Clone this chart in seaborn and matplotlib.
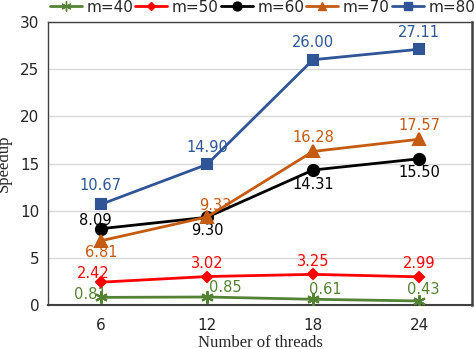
import matplotlib
matplotlib.use("Agg")
import matplotlib.pyplot as plt
import seaborn as sns
import pandas as pd
from matplotlib.lines import Line2D

threads = [6, 12, 18, 24]
m40 = [0.81, 0.85, 0.61, 0.43]
m50 = [2.42, 3.02, 3.25, 2.99]
m60 = [8.09, 9.30, 14.31, 15.50]
m70 = [6.81, 9.33, 16.28, 17.57]
m80 = [10.67, 14.90, 26.00, 27.11]
series_names = ["m=40", "m=50", "m=60", "m=70", "m=80"]
series_vals = [m40, m50, m60, m70, m80]
y_ticks = [0, 5, 10, 15, 20, 25, 30]

colors = {"m=40": "#548235", "m=50": "#ff0000", "m=60": "#000000",
          "m=70": "#c55a11", "m=80": "#2f5597"}
markers = {"m=40": (6, 2, 0), "m=50": "D", "m=60": "o", "m=70": "^", "m=80": "s"}
msizes = {"m=40": 9, "m=50": 5, "m=60": 8, "m=70": 8, "m=80": 7}

sns.set_theme(style="white")
plt.rcParams["font.family"] = ["DejaVu Sans"]

fig = plt.figure(figsize=(4.74, 3.49), dpi=100)
ax = fig.add_axes([0.101, 0.126, 0.895, 0.811])

for name, vals in zip(series_names, series_vals):
    d = pd.DataFrame({"pos": list(range(len(threads))), "speedup": vals})
    sns.lineplot(data=d, x="pos", y="speedup", color=colors[name], ax=ax,
                 linewidth=2, marker=markers[name], markersize=msizes[name],
                 markeredgecolor=colors[name], markeredgewidth=1.5, zorder=3)

# offsets in pixels (dx, dy), up positive
offsets = {
    "m=40": [(-11, 3), (18, 10), (12, 10), (4, 11)],
    "m=50": [(-8, 9), (0, 13), (0, 13), (0, 13)],
    "m=60": [(-6, 8), (0, -13), (0, -14), (0, -14)],
    "m=70": [(0, -12), (8, 12), (0, 14), (0, 14)],
    "m=80": [(0, 19), (0, 17), (0, 17), (0, 17)],
}
for name, vals in zip(series_names, series_vals):
    for i, v in enumerate(vals):
        dx, dy = offsets[name][i]
        ax.annotate(f"{v:.2f}", (i, v), xytext=(dx * 0.72, dy * 0.72),
                    textcoords="offset points", ha="center", va="center",
                    color=colors[name], fontsize=10.5, zorder=1)

ax.set_xlim(-0.5, 3.5)
ax.set_ylim(0, 30)
ax.set_xticks(range(len(threads)))
ax.set_xticklabels([str(t) for t in threads])
ax.set_yticks(y_ticks)
ax.tick_params(axis="both", labelsize=11, length=0)
ax.tick_params(axis="x", pad=9)
ax.tick_params(axis="y", pad=6)
ax.yaxis.grid(True, color="#d9d9d9", linewidth=1)
ax.set_axisbelow(True)
for s in ["top", "right", "left"]:
    ax.spines[s].set_color("#404040")
    ax.spines[s].set_linewidth(1)
ax.spines["right"].set_linewidth(1.8)
ax.spines["bottom"].set_color("#404040")
ax.spines["bottom"].set_linewidth(1.5)

ax.set_xlabel("Number of threads", family="Liberation Serif", fontsize=12, labelpad=2)
ax.set_ylabel("Speedup", family="Liberation Serif", fontsize=12, labelpad=6)

handles = [Line2D([], [], color=colors[n], marker=markers[n], markersize=msizes[n] * 0.8,
                  markeredgecolor=colors[n], linewidth=2) for n in series_names]
fig.legend(handles, series_names, loc="center left", bbox_to_anchor=(50 / 474, 1 - 7 / 349),
           ncol=5, frameon=False, fontsize=11, handlelength=2.1, handletextpad=0.3,
           columnspacing=0.12, borderaxespad=0, borderpad=0)

fig.savefig("out.png", dpi=100)
